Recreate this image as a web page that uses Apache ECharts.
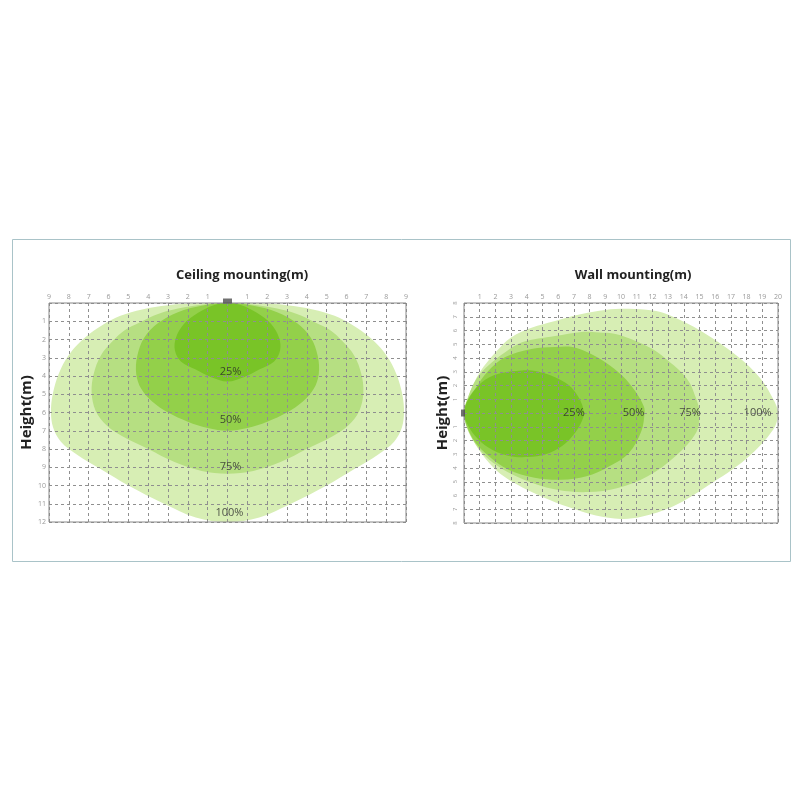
<!DOCTYPE html>
<html><head><meta charset="utf-8">
<script src="https://cdn.jsdelivr.net/npm/echarts@6/dist/echarts.min.js"></script>
<style>html,body{margin:0;padding:0;background:#fff}#c{width:800px;height:800px}</style>
</head><body><div id="c"></div>
<script>
// ---- Ceiling mounting (x: metres left/right of fixture, y: height below fixture) ----
const ceilingXRange = [-9, 9];
const ceilingYRange = [0, 12];
const ceiling100 = [[0,0],[1.5,0.02],[3,0.12],[4.3,0.35],[5.4,0.7],[6.3,1.2],[7.2,1.9],[7.9,2.7],[8.4,3.6],[8.75,4.7],[8.9,5.8],[8.8,6.8],[8.4,7.6],[7.6,8.3],[6.4,9.1],[5.0,10.0],[3.2,11.0],[1.6,11.75],[0,12],
  [-1.6,11.75],[-3.2,11.0],[-5.0,10.0],[-6.4,9.1],[-7.6,8.3],[-8.4,7.6],[-8.8,6.8],[-8.9,5.8],[-8.75,4.7],[-8.4,3.6],[-7.9,2.7],[-7.2,1.9],[-6.3,1.2],[-5.4,0.7],[-4.3,0.35],[-3,0.12],[-1.5,0.02]];
const ceiling75 = [[0,0],[1.2,0.08],[2.5,0.3],[3.5,0.6],[4.4,1.05],[5.2,1.5],[5.8,2.1],[6.4,2.9],[6.75,3.9],[6.85,4.9],[6.65,5.9],[6.1,6.7],[5.3,7.3],[4.0,8.0],[2.7,8.7],[1.3,9.2],[0,9.35],
  [-1.3,9.2],[-2.7,8.7],[-4.0,8.0],[-5.3,7.3],[-6.1,6.7],[-6.65,5.9],[-6.85,4.9],[-6.75,3.9],[-6.4,2.9],[-5.8,2.1],[-5.2,1.5],[-4.4,1.05],[-3.5,0.6],[-2.5,0.3],[-1.2,0.08]];
const ceiling50 = [[0,0],[1.3,0.15],[2.5,0.5],[3.5,1.1],[4.2,1.9],[4.55,2.9],[4.6,3.9],[4.35,4.7],[3.8,5.4],[3.0,6.0],[2.0,6.5],[1.0,6.85],[0,7.0],
  [-1.0,6.85],[-2.0,6.5],[-3.0,6.0],[-3.8,5.4],[-4.35,4.7],[-4.6,3.9],[-4.55,2.9],[-4.2,1.9],[-3.5,1.1],[-2.5,0.5],[-1.3,0.15]];
const ceiling25 = [[0,0],[0.7,0.12],[1.5,0.55],[2.2,1.15],[2.6,1.9],[2.65,2.6],[2.35,3.2],[1.6,3.65],[0.85,4.05],[0,4.3],
  [-0.85,4.05],[-1.6,3.65],[-2.35,3.2],[-2.65,2.6],[-2.6,1.9],[-2.2,1.15],[-1.5,0.55],[-0.7,0.12]];
const ceilingPctText = ['25%','50%','75%','100%'];
const ceilingPctX = [0.15, 0.15, 0.15, 0.1];
const ceilingPctY = [3.8, 6.4, 9.0, 11.5];

// ---- Wall mounting (x: distance 0..20 m, y: metres above/below fixture) ----
const wallXRange = [0, 20];
const wallYRange = [-8, 8];
const wall100 = [[0,0],[0.38,1.5],[1.0,2.95],[2.0,4.4],[3.0,5.5],[4.3,6.2],[5.8,6.7],[7.5,7.2],[9.0,7.5],[10.5,7.58],[12.0,7.45],[12.9,7.2],[15.2,5.9],[17.4,4.15],[18.9,2.5],[19.7,1.0],[20,0],
  [19.7,-1.2],[18.0,-3.3],[15.5,-5.3],[13.3,-6.8],[11.3,-7.55],[10.0,-7.7],[8.4,-7.45],[6.7,-6.85],[5.0,-6.1],[3.3,-5.15],[2.0,-4.1],[0.9,-2.6],[0.28,-1.15]];
const wall75 = [[0,0],[0.3,1.3],[0.8,2.5],[1.55,3.45],[2.6,4.4],[3.7,5.15],[5.8,5.6],[7.5,5.9],[8.6,5.85],[9.65,5.75],[10.9,5.25],[12.0,4.65],[12.8,4.0],[14.2,2.5],[14.8,1.0],[15.0,0],
  [14.8,-1.4],[13.5,-3.1],[11.7,-4.6],[9.8,-5.45],[7.9,-5.75],[6.0,-5.6],[4.5,-5.15],[2.8,-4.3],[1.55,-3.35],[0.7,-2.2],[0.2,-1.1]];
const wall50 = [[0,0],[0.25,1.0],[0.7,1.75],[1.5,3.0],[2.6,4.05],[4.3,4.65],[5.8,4.8],[6.9,4.8],[7.9,4.4],[9.0,3.7],[10.1,2.7],[10.9,1.6],[11.45,0.5],[11.5,0],
  [11.3,-1.3],[10.5,-2.9],[9.2,-3.9],[7.8,-4.6],[6.2,-4.85],[4.5,-4.7],[2.8,-4.1],[1.55,-3.1],[0.7,-2.1],[0.2,-1.0]];
const wall25 = [[0,0],[0.28,1.0],[1.1,2.2],[2.2,2.85],[3.7,3.1],[4.75,3.0],[5.8,2.6],[6.7,2.0],[7.3,1.15],[7.6,0.3],[7.6,-0.3],[7.1,-1.4],[6.25,-2.4],[5.2,-3.0],[4.1,-3.2],[2.8,-3.1],[1.55,-2.5],[0.7,-1.65],[0.17,-0.7]];
const wallPctText = ['25%','50%','75%','100%'];
const wallPctX = [7.0, 10.8, 14.4, 18.7];
const wallPctY = [0, 0, 0, 0];

const colors = { p100: '#d7eeb4', p75: '#b6df82', p50: '#93d04a', p25: '#79c427' };
const FONT = "'Open Sans', 'DejaVu Sans', sans-serif";

function area(pts, color, ax) {
  return {
    type: 'custom', xAxisIndex: ax, yAxisIndex: ax, z: 1, silent: true, clip: true,
    data: pts,
    renderItem: function (params, api) {
      if (params.dataIndex !== 0) return null;
      return { type: 'polygon', shape: { points: pts.map(function (p) { return api.coord(p); }), smooth: 0.35 },
               style: { fill: color } };
    }
  };
}
function pctLabels(xs, ys, txt, ax) {
  return {
    type: 'scatter', xAxisIndex: ax, yAxisIndex: ax, z: 6, silent: true, symbolSize: 1,
    itemStyle: { color: 'rgba(0,0,0,0)' },
    data: txt.map(function (t, i) { return [xs[i], ys[i], t]; }),
    label: { show: true, position: 'inside', formatter: function (p) { return p.value[2]; },
             color: '#2a2a2a', fontSize: 11, fontFamily: FONT }
  };
}
const absLabel = function (v) { return v === 0 ? '' : String(Math.abs(v)); };
const split = { show: true, lineStyle: { type: [3, 3], color: '#8f8f8f', width: 1 } };
const lab = { fontSize: 7, color: '#999', fontFamily: FONT, formatter: absLabel };
const nameStyle = { fontWeight: 'bold', fontSize: 15, color: '#222', fontFamily: FONT };

const chart = echarts.init(document.getElementById('c'));
chart.setOption({
  animation: false,
  backgroundColor: '#fff',
  grid: [
    { left: 49, top: 303, width: 357, height: 219, show: true, borderColor: '#888', borderWidth: 1, z: 4 },
    { left: 464, top: 303, width: 314, height: 220, show: true, borderColor: '#888', borderWidth: 1, z: 4 }
  ],
  xAxis: [
    { gridIndex: 0, type: 'value', position: 'top', min: ceilingXRange[0], max: ceilingXRange[1], interval: 1, z: 3,
      axisLine: { show: false }, axisTick: { show: false }, axisLabel: Object.assign({ margin: 3 }, lab), splitLine: split },
    { gridIndex: 1, type: 'value', position: 'top', min: wallXRange[0], max: wallXRange[1], interval: 1, z: 3,
      axisLine: { show: false }, axisTick: { show: false }, axisLabel: Object.assign({ margin: 3 }, lab), splitLine: split }
  ],
  yAxis: [
    { gridIndex: 0, type: 'value', inverse: true, min: ceilingYRange[0], max: ceilingYRange[1], interval: 1, z: 3,
      name: 'Height(m)', nameLocation: 'middle', nameRotate: 90, nameGap: 12, nameTextStyle: nameStyle,
      axisLine: { show: false }, axisTick: { show: false }, axisLabel: Object.assign({ margin: 3 }, lab), splitLine: split },
    { gridIndex: 1, type: 'value', min: wallYRange[0], max: wallYRange[1], interval: 1, z: 3,
      name: 'Height(m)', nameLocation: 'middle', nameRotate: 90, nameGap: 14, nameTextStyle: nameStyle,
      axisLine: { show: false }, axisTick: { show: false },
      axisLabel: Object.assign({ margin: 6, rotate: 90 }, lab, { fontSize: 6 }), splitLine: split }
  ],
  graphic: [
    { type: 'rect', z: 0, silent: true, shape: { x: 12.5, y: 239.5, width: 778, height: 322 },
      style: { fill: 'none', stroke: '#a9c3c8', lineWidth: 1 } },
    { type: 'text', z: 10, silent: true, style: { text: 'Ceiling mounting(m)', x: 242, y: 275, textAlign: 'center', textVerticalAlign: 'middle',
      fontSize: 13, fontWeight: 'bold', fontFamily: FONT, fill: '#222' } },
    { type: 'text', z: 10, silent: true, style: { text: 'Wall mounting(m)', x: 633, y: 275, textAlign: 'center', textVerticalAlign: 'middle',
      fontSize: 13, fontWeight: 'bold', fontFamily: FONT, fill: '#222' } }
  ],
  series: [
    area(ceiling100, colors.p100, 0), area(ceiling75, colors.p75, 0), area(ceiling50, colors.p50, 0), area(ceiling25, colors.p25, 0),
    area(wall100, colors.p100, 1), area(wall75, colors.p75, 1), area(wall50, colors.p50, 1), area(wall25, colors.p25, 1),
    pctLabels(ceilingPctX, ceilingPctY, ceilingPctText, 0),
    pctLabels(wallPctX, wallPctY, wallPctText, 1),
    { type: 'scatter', xAxisIndex: 0, yAxisIndex: 0, z: 7, silent: true, symbol: 'rect', symbolSize: [9, 5], symbolOffset: [0, -2],
      itemStyle: { color: '#4d4d4d' }, data: [[0, 0]] },
    { type: 'scatter', xAxisIndex: 1, yAxisIndex: 1, z: 7, silent: true, symbol: 'rect', symbolSize: [4, 7], symbolOffset: [-1, 0],
      itemStyle: { color: '#4d4d4d' }, data: [[0, 0]] }
  ]
});
</script>
</body></html>
